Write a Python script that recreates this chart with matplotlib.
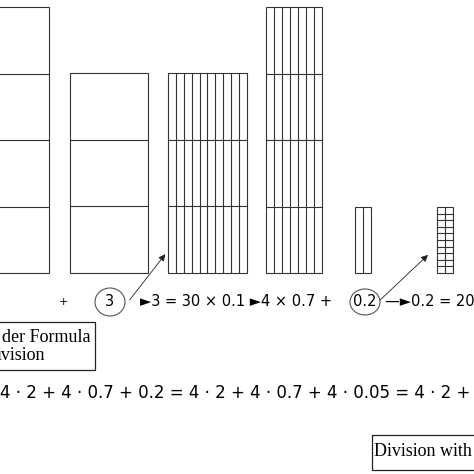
import matplotlib
matplotlib.use("Agg")
import matplotlib.pyplot as plt
from matplotlib.patches import Rectangle, Ellipse

# blocks: (x0, x1, y_top, y_bottom, n_cols, n_rows)
block_x0 = [-30, 70, 168, 266, 355, 437]
block_x1 = [49, 148, 247, 322, 371, 453]
block_top = [7, 73, 73, 7, 207, 207]
block_bottom = [273, 273, 273, 273, 273, 273]
block_cols = [1, 1, 10, 7, 2, 2]
block_rows = [4, 3, 3, 4, 1, 10]

fig = plt.figure(figsize=(4.74, 4.74), dpi=100)
ax = fig.add_axes([0, 0, 1, 1])
ax.set_xlim(0, 474); ax.set_ylim(474, 0); ax.axis('off')

lc = '#333333'
for x0, x1, t, b, nc, nr in zip(block_x0, block_x1, block_top, block_bottom, block_cols, block_rows):
    ax.add_patch(Rectangle((x0, t), x1 - x0, b - t, fill=False, ec=lc, lw=0.8))
    for i in range(1, nc):
        x = x0 + (x1 - x0) * i / nc
        ax.plot([x, x], [t, b], color=lc, lw=0.8)
    for j in range(1, nr):
        y = t + (b - t) * j / nr
        ax.plot([x0, x1], [y, y], color=lc, lw=0.8)

ax.annotate('', xy=(167, 252), xytext=(128, 302), arrowprops=dict(arrowstyle='-|>', color='#222', lw=0.6))
ax.annotate('', xy=(430, 253), xytext=(378, 302), arrowprops=dict(arrowstyle='-|>', color='#222', lw=0.6))

fs = 10.5
ax.text(63, 302, '+', fontsize=8, ha='center', va='center')
ax.add_patch(Ellipse((110, 302), 30, 28, fill=False, ec='#555', lw=0.8))
ax.text(110, 302, '3', fontsize=fs, ha='center', va='center')
ax.text(140, 302, '►3 = 30 × 0.1 ►4 × 0.7 +', fontsize=fs, ha='left', va='center')
ax.add_patch(Ellipse((365, 302), 30, 26, fill=False, ec='#555', lw=0.8))
ax.text(365, 302, '0.2', fontsize=fs, ha='center', va='center')
ax.text(385, 302, '—►0.2 = 200', fontsize=fs, ha='left', va='center')

ax.add_patch(Rectangle((-20, 322), 115, 48, fill=False, ec='#222', lw=0.9))
ax.text(91, 337, 'der Formula', fontsize=13, ha='right', va='center', family='Liberation Serif')
ax.text(-3, 356, 'ivision', fontsize=13, ha='left', va='center', family='Liberation Serif')

ax.text(0, 393, '4 · 2 + 4 · 0.7 + 0.2 = 4 · 2 + 4 · 0.7 + 4 · 0.05 = 4 · 2 +', fontsize=12, ha='left', va='center')

ax.add_patch(Rectangle((372, 435), 120, 35, fill=False, ec='#222', lw=0.9))
ax.text(374, 452, 'Division with', fontsize=13, ha='left', va='center', family='Liberation Serif')

fig.savefig('out.png', dpi=100)
